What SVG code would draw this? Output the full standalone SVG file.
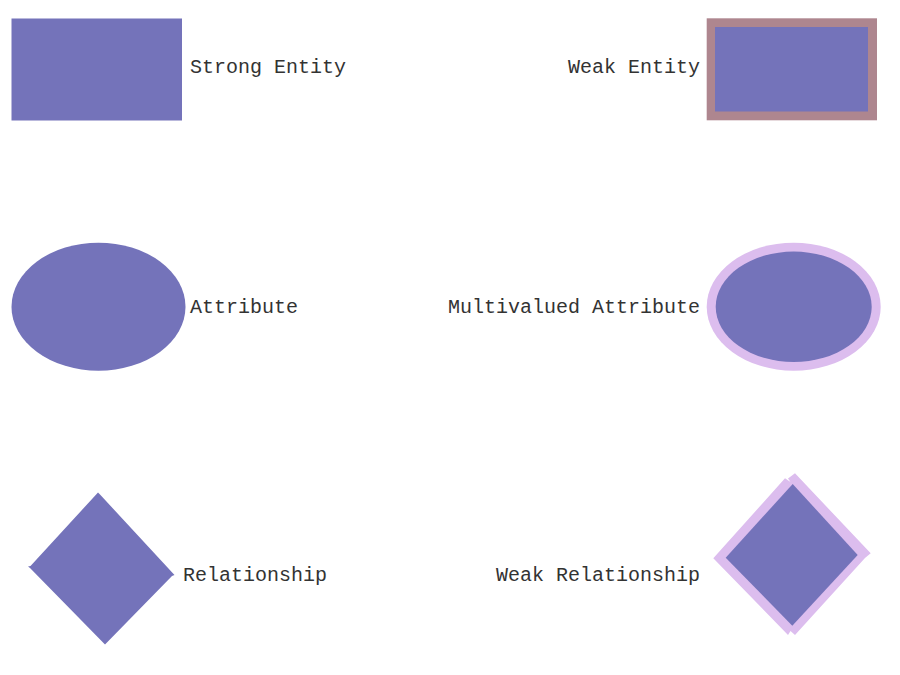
<svg xmlns="http://www.w3.org/2000/svg" width="900" height="675" viewBox="0 0 900 675">
<style>
.fill{fill:#7473ba}
.brown{fill:#ae868f}
.lilac{fill:#dcbdee}
text{font-family:"Liberation Mono",monospace;font-size:20px;fill:#333}
</style>
<rect width="900" height="675" fill="#fff"/>
<g id="strong-entity">
<rect class="fill" x="11.500" y="18.500" width="170.500" height="102"/>
<text x="190" y="73">Strong Entity</text>
</g>
<g id="weak-entity">
<rect class="brown" x="706.700" y="18.300" width="170.300" height="102"/>
<rect class="fill" x="715" y="27" width="153" height="84.500"/>
<text x="568" y="73">Weak Entity</text>
</g>
<g id="attribute">
<ellipse class="fill" cx="98.500" cy="306.700" rx="87" ry="64"/>
<text x="190" y="313">Attribute</text>
</g>
<g id="multivalued-attribute">
<ellipse class="lilac" cx="793.700" cy="306.700" rx="87" ry="64"/>
<ellipse class="fill" cx="793.700" cy="306.800" rx="78" ry="55.200"/>
<text x="448" y="313">Multivalued Attribute</text>
</g>
<g id="relationship">
<polygon class="fill" points="98,492.500 100,494.500 174.500,575 172,576 105,644.500 30,568 28,566.500 30.500,566"/>
<text x="183" y="581">Relationship</text>
</g>
<g id="weak-relationship">
<polygon class="lilac" points="713.300,558.300 785,478.300 790.500,482 788,478.500 795,473.300 870.700,553.300 865,558 795,635 790.500,631 788,635"/>
<polygon class="fill" points="792.700,484 857.700,555 792.300,625.700 725.700,557.700"/>
<text x="496" y="581">Weak Relationship</text>
</g>
<g id="connectors"/>
</svg>
